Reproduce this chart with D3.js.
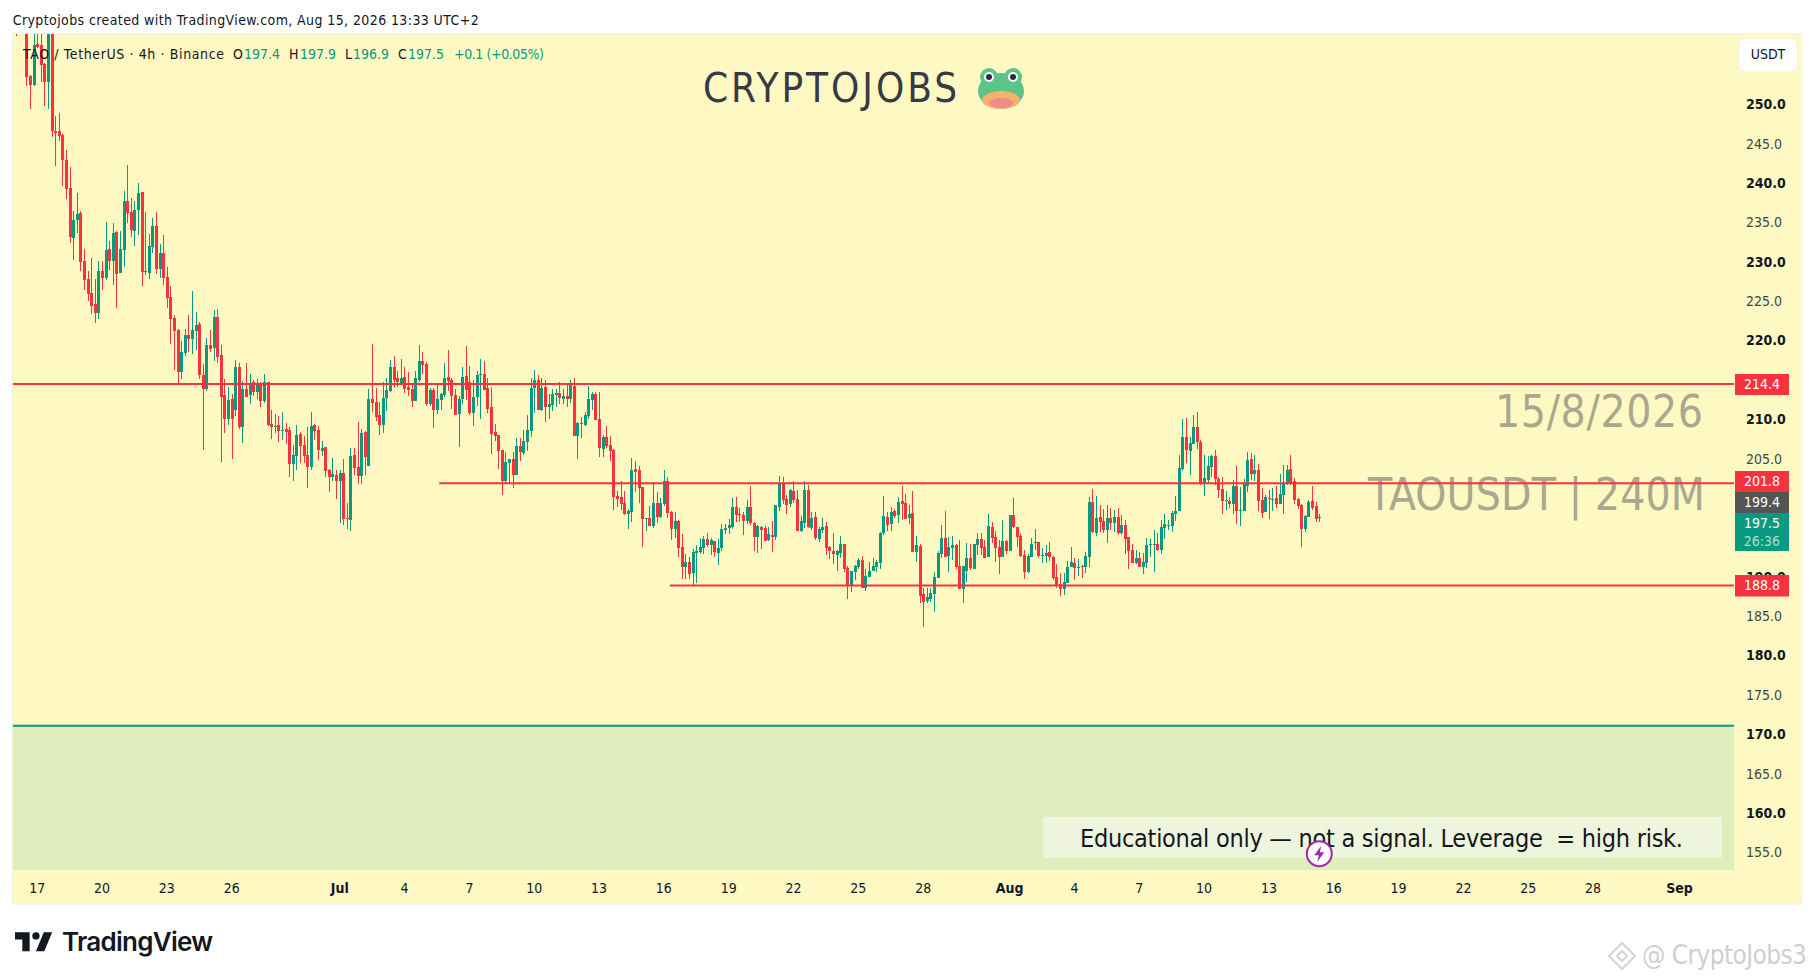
<!DOCTYPE html>
<html>
<head>
<meta charset="utf-8">
<script src="https://cdn.jsdelivr.net/npm/d3@7"></script>
<style>
	html, body { margin: 0; padding: 0; background: #fff; overflow: hidden; }
	text { font-family: "DejaVu Sans Condensed", "DejaVu Sans", sans-serif; font-stretch: condensed; }
</style>
</head>
<body>
<div id="chart-container"></div>
<script>
// 4h candles, oldest first (the first three start above the visible range)
var opens = [265,270,266,262,253.5,252.4,257.6,257.5,255.1,252.8,262,246.5,246.5,246,242.9,239.3,232.9,235.2,236.1,230,
	227.7,226,224.6,223.4,228.8,227.9,231.6,230,233.7,228.5,231.4,237.6,236.3,233.8,236.5,238.8,228.8,228.5,231.8,234.5,
	229,231,228,225.5,222.8,221.3,215.9,218.3,220.6,220.1,221.1,222,215.6,213.8,219.4,219,222.9,218.1,213,210,
	212.5,211.1,216.6,208.9,213.8,213,214.7,213.4,214.5,212.2,214.7,209.3,208.9,209.2,208.4,208.7,208.6,204.2,205.3,208.1,
	206.7,205.4,203.9,209.2,208.6,205.9,206.4,203.5,202.6,202.8,202.1,203.1,197.4,197.1,205.4,203.9,202.7,208.3,204,212.5,
	212.1,210.5,209.2,212.6,213.5,216.6,215.2,214.4,215.3,214,213.8,212.2,214.9,217.3,216.9,211.9,213.6,211.1,212.4,213,
	215.3,214.9,213,210.6,212.5,215.4,214.7,210.7,212.8,215.5,215.7,213.9,211.5,208.3,207.9,206,202.1,204.4,204.9,202.8,
	206.5,205.6,207,208.4,213.9,214.9,211.1,214,211.5,211.7,213,213.3,212.5,212.9,212.5,214.1,207.8,209.5,209.2,210.3,
	212.4,213.1,210,206.2,207.7,206.7,206,200.2,200.1,199.3,197.9,198.1,203.6,203.5,201.3,197.3,197.4,196.4,199.3,197.5,
	199.2,202.1,198.1,196,197,193.7,191.2,191.8,190.4,192.9,193.1,193.6,194.7,194,194.5,192.9,193.6,195.9,196.1,196.2,
	198.8,197.9,197.8,197,198.8,196.8,195,196.2,196.1,194.6,195.2,195,198.8,201.8,199.8,199.2,200.8,199.8,195.7,196.8,
	200.9,196.1,197.5,194.7,195.9,196.4,193.7,193.2,192.7,192.9,194.1,191,188.8,190.5,191.2,192.1,188.5,189.9,190.7,191.2,
	191.7,195.5,197.5,196.6,198.3,197.8,199.5,199.3,197.4,198,193.1,193.8,187.7,186.8,187.1,187.7,189.8,192.8,194.8,192.6,
	193.6,194,191.3,188.4,190.7,192.3,190.9,194,194.7,193.7,192.4,196.2,195,193.7,192.4,194.5,193.2,197.8,196.2,195.1,
	192.7,190.5,192.4,194.2,194.3,192.6,192.6,193.1,192.4,189.9,189,188.4,189.1,191.2,191.7,191,191.3,191.2,192.4,199.4,
	195.5,197.5,197,195.9,197.4,196.8,197.5,195.5,196.5,195,193.3,191.7,192.3,191.2,191.7,194,194,194.1,193.3,196.1,
	196.4,196.4,197.9,198.3,203.6,207.7,205.9,206.8,208.9,207,201.8,202.2,203.9,205.3,202.3,201.1,199.5,199.5,199.2,201.5,
	198.3,198.3,201.5,204.9,203,203.5,199.7,198.1,199.9,199.7,199.9,199.2,200.3,201.8,203.6,202.1,199.8,199,196,197.5,
	199.5,198.9,197.4];
var highs = [268,272,268,264,253.6,260,260,259.5,255.2,264,263,248.4,248.8,246.2,244.1,242,236.4,238.7,236.4,231.6,
	228.8,230.4,227.7,230,230,235,232.6,234.9,233.8,233.8,238.9,242.2,238,237.6,239.9,238.8,236.3,233.5,235.5,236.3,
	232.2,233.3,229.3,226.9,223.2,221.4,219.9,221.4,223.2,226.2,223.5,222.3,216.9,220.2,221.3,223.8,223.9,219.4,215,214,
	213.1,217.5,217.1,214.8,217.1,215.7,214.9,215,214.7,215.7,214.7,211.1,210.6,210.3,210.9,209.5,208.9,206.7,209.2,208.3,
	207.8,208.9,210.9,209.3,209.1,207.2,206.4,203.6,205,203.5,203.5,204.9,199.3,206.3,206.3,209.6,208.7,208.4,213.8,219.5,
	213.9,212.1,214.7,215.2,217.5,218,216.1,217.6,216.6,215.9,214.4,216.1,219.4,218.5,217.2,213.9,213.9,214.4,213.3,217.1,
	218.7,215.2,213.8,212.9,216.6,219.2,216.7,214.9,216.1,217.6,217.3,215.2,214,209.3,207.9,206,205.8,204.9,205.8,207.5,
	207.5,208.6,210.5,215.2,216.2,215.5,215.2,214.9,213.1,213.8,213.8,214.7,213.8,214.4,214.9,215.2,209.6,210.2,210.9,214.2,
	213.4,213.4,213.4,207.9,209.1,207.8,206.2,200.8,202.1,200.8,198.5,205,204.6,204,201.3,197.4,198.9,202,200.7,199.9,
	203.5,202.6,198.3,198.1,197.1,195.4,192.8,192.4,193.4,194,194.8,195.1,195.5,194.8,194.5,194.7,196.6,196.6,197.3,199.9,
	200.1,198.7,198.1,199.7,201.5,196.9,196.5,196.4,196.4,196.2,197,199,202.7,202.6,200.3,201.1,202.1,200.9,197.6,202.1,
	201.6,198.1,198.1,196.2,197.4,196.9,193.8,195.5,193.3,195.1,194.1,191.3,190.7,191.4,192.3,192.6,190.9,191.8,192.3,192.1,
	195.6,200.2,198.1,198.8,198.5,200.1,201.5,200.4,199,200.8,195.1,194.1,188.5,188.5,188.5,190.5,193.2,196.5,198.3,195,
	195.1,194.1,194.6,191.3,194.2,194.1,194.1,195.5,195.5,194.6,197.9,196.9,195.7,194.6,197.1,194.6,197.8,199.9,196.3,195.5,
	193.3,192.8,194.8,196,194.3,193.6,194,194.3,192.6,191.5,190.4,190.4,191.9,193.7,192.3,192.2,191.4,193.1,200.1,201.1,
	200.2,199,198.5,199,198.7,198.4,198.7,197.8,197.1,195,194.1,193.3,193.1,192.9,194.8,194.7,195.9,195.5,197.1,197.9,
	197.1,198.3,200.2,205.4,210,210.1,207.7,210.5,210.9,207.3,205.4,205.3,205.4,206,202.6,202.6,200.8,200.1,202.2,204,
	201.3,202.3,205.8,205.6,205.4,204.2,201.2,200.3,200.9,201.2,201.5,203,204.1,204.1,205.4,202.5,199.9,199.1,197.8,199.7,
	201.5,199.4,197.9];
var lows = [258.6,264,262,252.2,249.3,252.3,257.1,252.7,249.7,249.3,245.8,242.1,245.2,239.5,237.9,232.3,230.2,233.6,228.8,226.3,
	224.9,223.3,222.2,222.7,226.3,227.6,228.9,227,224.1,228.5,229.3,234.9,233.1,231.9,233.3,226.9,228.2,227.7,231,228.4,
	227.9,227,224.1,219.5,216.2,214.5,215,218,218.5,218.2,218.7,215,206,213.5,218.5,217.3,217.1,204.5,208.2,209.2,
	204.9,210.3,208.7,206.9,212.8,211.9,212.9,212.5,211.5,212,209.1,207.4,208.2,207,207.3,206.8,202.6,202.1,203.5,204.4,
	204.4,201.2,203.5,207.3,204.8,205.3,202.6,200.7,202.1,199.8,196.8,196.5,196,195.7,202.8,201.7,201.7,202.8,204,210.9,
	209.7,207.9,208.2,211,213.4,213.9,214,214.3,213.3,212.9,211.5,212.2,214.7,215.7,211.6,211.6,208.8,210.6,211.1,212.8,
	213.5,211.2,210.5,206.4,211.9,212.4,210.5,209.1,211.6,210,213.6,210.7,205.5,207.2,203.6,200.3,201.8,201.8,201.2,202.8,
	204.6,205.4,205.9,207.7,210.7,211.1,211,209.6,210,211,211.5,211.9,211.9,211.5,212,207.8,204.9,207.5,209.1,210,
	211.1,209.8,205.1,205.1,206.3,204.6,198.4,198.8,198.4,197.7,196,196.9,200.7,199.3,193.7,195.7,196.4,196.1,196.8,197.4,
	198.9,197.4,194.6,194.8,192.4,189.6,189.6,189.6,188.8,189.1,192.8,192.8,193.7,192.7,192.4,191.4,193.2,195.4,195.4,196,
	196.9,196.9,195.2,196.6,196.5,193.2,192.9,193.4,194.5,194.5,193.1,194.6,198.3,199.2,197.9,198.8,199.3,195.7,195.6,196.1,
	196.1,195.9,194.6,194.3,195.5,192.7,192.2,191.5,190.7,192.3,190.5,187.1,188,189.5,190.9,188.5,188.1,189.9,190.7,190.5,
	190.9,195.2,195.7,195.7,197.4,196.8,197.1,197.3,196.6,193.1,191.8,186.6,183.5,186.6,186.7,185.4,189.8,192.3,192.4,190.5,
	192.1,190.9,188.4,186.6,189.3,190.8,190.9,192.7,192.7,192.3,192.4,194.2,191.8,190.3,192.4,192.8,193.2,196.1,193.7,192.4,
	189.6,190.4,192.4,193.3,192.3,191.7,191.7,191.9,189.5,188.5,187.5,187.6,189.1,191.1,189.5,190,189.8,190.4,191.2,195.5,
	195.1,195.6,195.5,194.2,195.9,195.6,195.2,195.2,192.8,190.9,191.7,191.5,191.2,190.3,191,192.4,190.5,193.2,192.8,194.7,
	195.9,195.6,197,198.3,203.4,204.4,202.8,206.8,206.2,201.6,200.2,201.7,202.6,201.6,199.9,197.9,198.4,198.7,197.9,196.6,
	196.4,198.3,200.7,202.2,202.1,198.3,197.4,198.1,197.3,198.3,198.7,199.2,197.9,201.6,201.6,199.2,198.5,193.7,195.6,197.5,
	198.4,196.9,196.9];
var closes = [260,266,263,253.4,252.4,257.5,257.2,254.9,252.8,262,246.5,246.3,245.9,242.8,239.2,233.1,235.2,236,229.9,227.6,
	225.8,224.3,223.4,228.8,227.9,231.4,230,233.6,228.4,231.6,237.6,236.1,234,236.5,238.7,228.6,228.6,231.9,234.5,229,
	231,227.9,225.3,222.7,221.1,215.9,218.5,220.6,220.1,221.3,221.9,215.5,213.8,219.4,218.9,222.9,217.8,212.8,210,212.4,
	210,216.6,208.9,213.8,212.8,214.4,213.4,214.5,212.2,214.7,209.2,208.9,209.1,208.4,208.6,208.3,204.2,205.4,207.9,206.5,
	205.3,203.9,209.1,208.4,206,206.3,203.4,202.6,203,202.1,203.1,197.3,197.3,205.3,203.7,202.7,208.2,205.1,212.5,212,
	210.2,209.2,212.6,213.6,216.6,214.9,214.7,215.2,213.8,213.6,212.2,215.2,217.3,216.8,211.9,213.6,211.1,212.5,213.1,215.2,
	214.8,212.9,210.5,212.5,215.3,213.6,210.7,212.8,215.5,215.7,213.6,211.2,208.1,207.8,205.9,202.1,204.5,204.9,202.8,206.5,
	205.8,207.2,208.6,213.9,214.9,211.1,213.9,211.5,211.9,213.1,213.3,212.6,212.9,212.5,214.3,207.8,209.5,209.3,210.5,212.5,
	213.1,209.8,206.3,207.7,206.5,205.9,200.1,199.8,199.2,197.9,198.3,203.5,203.2,201.2,197.3,197.4,196.4,199.3,197.5,199.3,
	202.1,198,196,197,193.6,191.2,191.8,190.3,193.1,193.2,193.7,194.7,194,194.6,193.1,193.6,196,196.1,196.5,198.8,
	197.8,197.8,197,198.8,196.8,195,196.4,195.9,194.5,195.4,195,199,201.8,199.7,199,200.9,199.7,195.7,197,200.9,
	196.2,197.4,194.8,196,196.2,193.6,193.2,192.8,193.2,194.1,190.9,188.9,190.7,191.3,192.1,188.5,190,190.7,191.3,191.8,
	195.5,197.6,196.5,198.1,197.6,199.4,199.2,197.3,197.9,193.1,194,187.5,186.7,187.4,187.9,189.9,192.9,194.8,192.4,193.7,
	194,191.2,188.4,191.3,192.3,191,194.1,194.7,193.6,192.3,196.4,194.8,193.6,192.4,194.5,193.2,197.8,196.2,195,192.6,
	190.5,192.6,194.1,194.3,192.6,192.7,192.9,192.4,189.8,188.9,188.4,189.3,191.2,191.8,191,191.2,191.2,192.6,199.4,195.6,
	197.4,196.9,195.9,197.4,196.8,197.5,195.5,196.5,194.7,193.2,191.7,192.3,191.2,191.8,194,194.1,194.1,193.3,196.2,196.6,
	196.5,198,198.3,203.7,207.7,206,206.9,208.9,207,201.8,202.5,204,205.3,202.3,200.9,199.5,199.7,199.2,201.5,198.3,
	198.4,201.7,204.8,203,203.5,199.5,198,200.1,199.8,199.8,199.2,200.4,202,203.5,201.7,199.7,198.9,196,197.6,199.4,
	198.7,197.3,197.5];

var first_day = 16.02; // day number of the first candle, counted from 1 June

// 215 and 200 sit fully behind the price tags in the picture, so they are left out
var price_ticks = [250,245,240,235,230,225,220,210,205,190,185,180,175,170,165,160,155];
var day_ticks = [17,20,23,26,31,34,37,40,43,46,49,52,55,58,62,65,68,71,74,77,80,83,86,89,93];
var day_labels = ["17","20","23","26","Jul","4","7","10","13","16","19","22","25","28","Aug","4","7","10","13","16","19","22","25","28","Sep"];

var level_prices = [214.4,201.8,188.8];
var level_start_days = [15.9,35.63,46.3];
var support_price = 171;

var tag_labels = ["214.4","201.8","199.4","197.5","188.8"];

var svg_width = 1814;
var svg_height = 980;
var plot = {left: 13, right: 1734, top: 34, bottom: 870};
var up_color = "#089981";
var down_color = "#f7323f";
var text_color = "#131722";
var tick_font = 14;

var svg = d3.select("#chart-container")
	.append("svg")
	.attr("width", svg_width)
	.attr("height", svg_height);

var x = d3.scaleLinear()
	.domain([17, 93])
	.range([36.7, 1679]);

var y = d3.scaleLinear()
	.domain([155, 250])
	.range([851.7, 103.7]);

var end_day = x.invert(plot.right);

// chart frame and background
svg.append("rect")
	.attr("x", 12.5).attr("y", 33.5)
	.attr("width", 1789).attr("height", 870.5)
	.attr("fill", "#fef8c3")
	.attr("stroke", "#f0f0ee")
	.attr("stroke-width", 1);

svg.append("rect")
	.attr("x", plot.left)
	.attr("y", y(support_price))
	.attr("width", plot.right - plot.left)
	.attr("height", plot.bottom - y(support_price))
	.attr("fill", "#e0edbc");

svg.append("defs").append("clipPath").attr("id", "plot-clip")
	.append("rect")
	.attr("x", plot.left).attr("y", plot.top)
	.attr("width", plot.right - plot.left).attr("height", plot.bottom - plot.top);

// watermark texts sit under the candles
svg.append("text")
	.attr("x", 1495).attr("y", 427)
	.attr("font-size", 44)
	.attr("fill", "#a9a88e")
	.attr("textLength", 208)
	.text("15/8/2026");

svg.append("text")
	.attr("x", 1368).attr("y", 510)
	.attr("font-size", 44)
	.attr("fill", "#a9a88e")
	.attr("textLength", 337)
	.attr("xml:space", "preserve")
	.text("TAOUSDT | 240M");

svg.append("text")
	.attr("x", 703).attr("y", 102)
	.attr("font-size", 40)
	.attr("fill", "#363a45")
	.attr("textLength", 254)
	.text("CRYPTOJOBS");

// frog next to the title
var frog = svg.append("g").attr("transform", "translate(1001,88)");
frog.append("ellipse").attr("cx", 0).attr("cy", 3).attr("rx", 23).attr("ry", 18).attr("fill", "#5cc48a");
frog.append("circle").attr("cx", -12).attr("cy", -11).attr("r", 9).attr("fill", "#5cc48a");
frog.append("circle").attr("cx", 12).attr("cy", -11).attr("r", 9).attr("fill", "#5cc48a");
frog.append("circle").attr("cx", -12).attr("cy", -11).attr("r", 5).attr("fill", "#fff");
frog.append("circle").attr("cx", 12).attr("cy", -11).attr("r", 5).attr("fill", "#fff");
frog.append("circle").attr("cx", -12).attr("cy", -11).attr("r", 3).attr("fill", "#27303a");
frog.append("circle").attr("cx", 12).attr("cy", -11).attr("r", 3).attr("fill", "#27303a");
frog.append("ellipse").attr("cx", 0).attr("cy", 12).attr("rx", 19).attr("ry", 9).attr("fill", "#f6b26b");
frog.append("ellipse").attr("cx", 0).attr("cy", 15).attr("rx", 12).attr("ry", 5).attr("fill", "#f08a8a");

// candles
var candles = svg.append("g")
	.attr("clip-path", "url(#plot-clip)")
	.attr("shape-rendering", "crispEdges");

var bars = candles.selectAll(".candle")
	.data(d3.range(opens.length))
	.enter()
	.append("g")
	.attr("class", "candle")
	.attr("fill", function(i) { return closes[i] >= opens[i] ? up_color : down_color; });

function candle_x(i) {
	return Math.round(x(first_day + i / 6));
}

bars.append("rect")
	.attr("x", function(i) { return candle_x(i); })
	.attr("y", function(i) { return y(highs[i]); })
	.attr("width", 1)
	.attr("height", function(i) { return y(lows[i]) - y(highs[i]); });

bars.append("rect")
	.attr("x", function(i) { return candle_x(i) - 1; })
	.attr("y", function(i) { return y(Math.max(opens[i], closes[i])); })
	.attr("width", 3)
	.attr("height", function(i) { return Math.max(1, Math.abs(y(opens[i]) - y(closes[i]))); });

// horizontal levels
svg.selectAll(".level")
	.data(level_prices)
	.enter()
	.append("line")
	.attr("class", "level")
	.attr("x1", function(d, i) { return x(level_start_days[i]); })
	.attr("x2", x(end_day))
	.attr("y1", function(d) { return y(d); })
	.attr("y2", function(d) { return y(d); })
	.attr("stroke", down_color)
	.attr("stroke-width", 2);

svg.append("line")
	.attr("x1", plot.left)
	.attr("x2", plot.right)
	.attr("y1", y(support_price))
	.attr("y2", y(support_price))
	.attr("stroke", up_color)
	.attr("stroke-width", 2);

// price axis
var y_axis = svg.append("g")
	.attr("transform", "translate(1746,0.6)")
	.call(d3.axisRight(y).tickValues(price_ticks).tickSize(0).tickPadding(0).tickFormat(d3.format(".1f")));
y_axis.select(".domain").remove();
y_axis.selectAll("text")
	.attr("font-size", tick_font)
	.attr("font-family", null)
	.attr("font-weight", function(d) { return d % 10 == 0 ? 700 : 400; })
	.attr("fill", function(d) { return d % 10 == 0 ? text_color : "#444"; });

// time axis
var x_axis = svg.append("g")
	.attr("transform", "translate(0,888)")
	.call(d3.axisBottom(x).tickValues(day_ticks).tickSize(0).tickPadding(0).tickFormat(function(d, i) { return day_labels[i]; }));
x_axis.select(".domain").remove();
x_axis.selectAll("text")
	.attr("y", 0)
	.attr("dy", "0.35em")
	.attr("font-size", tick_font)
	.attr("font-weight", function(d, i) { return isNaN(+day_labels[i]) ? 700 : 400; })
	.attr("fill", text_color);
svg.selectAll(".tick text").style("font-family", null);
y_axis.attr("font-family", null);
x_axis.attr("font-family", null);

// price tags on the axis
var tag_tops = [374, 471, 492, 513, 575];
var tag_heights = [21, 21, 21, 38, 21.5];
var tag_fills = [down_color, down_color, "#555555", up_color, down_color];

var tags = svg.selectAll(".tag")
	.data(tag_labels)
	.enter()
	.append("g")
	.attr("class", "tag");

tags.append("rect")
	.attr("x", 1735)
	.attr("y", function(d, i) { return tag_tops[i]; })
	.attr("width", 54)
	.attr("height", function(d, i) { return tag_heights[i]; })
	.attr("fill", function(d, i) { return tag_fills[i]; });

tags.append("text")
	.attr("x", 1762)
	.attr("y", function(d, i) { return tag_tops[i] + 10.5; })
	.attr("dy", "0.35em")
	.attr("text-anchor", "middle")
	.attr("font-size", tick_font)
	.attr("fill", "#fff")
	.text(function(d) { return d; });

svg.append("text")
	.attr("x", 1762).attr("y", 541)
	.attr("dy", "0.35em")
	.attr("text-anchor", "middle")
	.attr("font-size", tick_font)
	.attr("fill", "#a6e3c8")
	.text("26:36");

// USDT button
svg.append("rect")
	.attr("x", 1739).attr("y", 39)
	.attr("width", 58).attr("height", 32)
	.attr("rx", 5)
	.attr("fill", "#fff")
	.attr("stroke", "#f0f3fa");
svg.append("text")
	.attr("x", 1768).attr("y", 54.5)
	.attr("dy", "0.35em")
	.attr("text-anchor", "middle")
	.attr("font-size", 14)
	.attr("fill", text_color)
	.text("USDT");

// legend line
var legend = svg.append("g").attr("font-size", 14);
function legend_text(x_pos, str, color, len) {
	var t = legend.append("text")
		.attr("x", x_pos).attr("y", 53.7)
		.attr("dy", "0.35em")
		.attr("fill", color)
		.text(str);
	if (len) t.attr("textLength", len);
}
legend_text(23, "TAO / TetherUS · 4h · Binance", text_color, 201);
legend_text(233, "O", text_color);
legend_text(244, "197.4", up_color, 36);
legend_text(289, "H", text_color);
legend_text(300, "197.9", up_color, 36);
legend_text(345, "L", text_color);
legend_text(353, "196.9", up_color, 36);
legend_text(398, "C", text_color);
legend_text(408, "197.5", up_color, 36);
legend_text(454, "+0.1 (+0.05%)", up_color, 90);

// disclaimer box
svg.append("rect")
	.attr("x", 1043).attr("y", 817)
	.attr("width", 679).attr("height", 40.7)
	.attr("fill", "#eef5dc");
svg.append("text")
	.attr("x", 1080).attr("y", 838)
	.attr("dy", "0.35em")
	.attr("font-size", 25)
	.attr("fill", text_color)
	.attr("textLength", 603)
	.attr("xml:space", "preserve")
	.text("Educational only — not a signal. Leverage  = high risk.");

// lightning marker
var marker = svg.append("g").attr("transform", "translate(1319.3,853.7)");
marker.append("circle").attr("r", 12.5).attr("fill", "#fff").attr("stroke", "#9c27b0").attr("stroke-width", 2);
marker.append("path").attr("d", "M2,-8 L-5,1.5 L-0.5,1.5 L-2,8 L5,-1.5 L0.5,-1.5 Z").attr("fill", "#9c27b0");

// header and footer
svg.append("text")
	.attr("x", 12.7).attr("y", 19.7)
	.attr("dy", "0.35em")
	.attr("font-size", 14)
	.attr("fill", text_color)
	.attr("textLength", 466)
	.text("Cryptojobs created with TradingView.com, Aug 15, 2026 13:33 UTC+2");

var logo = svg.append("g").attr("transform", "translate(15,926) scale(1.047)").attr("fill", text_color);
logo.append("path").attr("d", "M14 6H0v7h7v11h7V6Z M28 24h-8l7.5-18h8L28 24Z");
logo.append("circle").attr("cx", 20).attr("cy", 9.5).attr("r", 3.5);

svg.append("text")
	.attr("x", 62).attr("y", 951)
	.style("font-family", "Inter, sans-serif")
	.style("font-stretch", "normal")
	.attr("font-weight", 600)
	.attr("font-size", 26)
	.attr("fill", text_color)
	.attr("textLength", 151)
	.text("TradingView");

// source stamp bottom right
var stamp = svg.append("g").attr("transform", "translate(1622,956)").attr("fill", "none").attr("stroke", "#d4d4d4").attr("stroke-width", 2);
stamp.append("path").attr("d", "M0,-13 L13,0 L0,13 L-13,0 Z");
stamp.append("path").attr("d", "M0,-5 L5,0 L0,5 L-5,0 Z");

svg.append("text")
	.attr("x", 1642).attr("y", 955)
	.attr("dy", "0.35em")
	.attr("font-size", 26)
	.attr("fill", "#cfcfcf")
	.attr("textLength", 165)
	.text("@ CryptoJobs3");
</script>
</body>
</html>
